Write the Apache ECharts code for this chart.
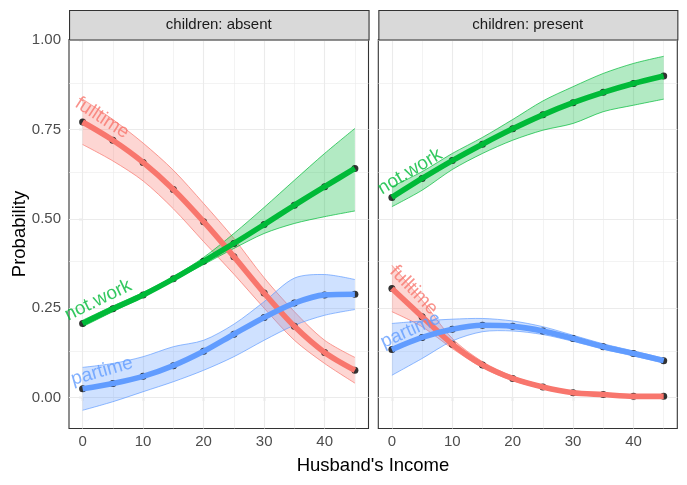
<!DOCTYPE html>
<html>
<head>
<meta charset="utf-8">
<script src="https://cdn.jsdelivr.net/npm/echarts@6/dist/echarts.min.js"></script>
<style>html,body{margin:0;padding:0;background:#fff}#c{width:687px;height:485px}</style>
</head>
<body>
<div id="c"></div>
<script>
// ---- data ----
const income = [0, 5, 10, 15, 20, 25, 30, 35, 40, 45];
const facets = ['children: absent', 'children: present'];
const outcomes = ['fulltime', 'not.work', 'partime'];
const xTicks = [0, 10, 20, 30, 40];
const yTicks = [0, 0.25, 0.5, 0.75, 1];
const xGridVals = [0, 5, 10, 15, 20, 25, 30, 35, 40, 45];
const yGridVals = [0, 0.125, 0.25, 0.375, 0.5, 0.625, 0.75, 0.875, 1];

// children: absent
const fullAbsent     = [0.771, 0.720, 0.658, 0.582, 0.492, 0.394, 0.292, 0.199, 0.126, 0.076];
const fullAbsentLo   = [0.708, 0.662, 0.606, 0.528, 0.436, 0.345, 0.250, 0.160, 0.095, 0.040];
const fullAbsentHi   = [0.835, 0.778, 0.712, 0.636, 0.543, 0.445, 0.335, 0.240, 0.160, 0.112];
const notAbsent      = [0.207, 0.248, 0.287, 0.332, 0.381, 0.431, 0.484, 0.538, 0.590, 0.641];
const notAbsentLo    = [0.198, 0.240, 0.281, 0.327, 0.372, 0.417, 0.459, 0.487, 0.506, 0.522];
const notAbsentHi    = [0.216, 0.256, 0.294, 0.338, 0.392, 0.459, 0.532, 0.608, 0.683, 0.753];
const partAbsent     = [0.024, 0.039, 0.059, 0.089, 0.129, 0.177, 0.224, 0.264, 0.287, 0.289];
const partAbsentLo   = [-0.036, -0.012, 0.016, 0.044, 0.076, 0.114, 0.160, 0.202, 0.230, 0.246];
const partAbsentHi   = [0.084, 0.095, 0.114, 0.142, 0.160, 0.205, 0.268, 0.334, 0.344, 0.330];

// children: present
const fullPresent    = [0.305, 0.226, 0.149, 0.091, 0.053, 0.029, 0.013, 0.008, 0.003, 0.003];
const fullPresentLo  = [0.240, 0.198, 0.137, 0.083, 0.047, 0.025, 0.010, 0.005, 0.001, 0.001];
const fullPresentHi  = [0.370, 0.272, 0.165, 0.100, 0.059, 0.034, 0.017, 0.011, 0.006, 0.005];
const notPresent     = [0.560, 0.613, 0.663, 0.709, 0.752, 0.791, 0.825, 0.854, 0.879, 0.900];
const notPresentLo   = [0.534, 0.580, 0.638, 0.683, 0.720, 0.748, 0.767, 0.800, 0.818, 0.835];
const notPresentHi   = [0.590, 0.632, 0.683, 0.728, 0.778, 0.830, 0.870, 0.907, 0.935, 0.955];
const partPresent    = [0.134, 0.168, 0.191, 0.202, 0.199, 0.186, 0.165, 0.142, 0.123, 0.103];
const partPresentLo  = [0.062, 0.109, 0.158, 0.184, 0.186, 0.176, 0.157, 0.135, 0.116, 0.096];
const partPresentHi  = [0.207, 0.214, 0.219, 0.221, 0.214, 0.198, 0.174, 0.150, 0.130, 0.110];

// direct labels: [x, y] per facet and outcome
const labelPosAbsent  = {fulltime: [3.2, 0.782], 'not.work': [2.6, 0.272], partime: [3.2, 0.073]};
const labelPosPresent = {fulltime: [3.6, 0.300], 'not.work': [3.0, 0.632], partime: [3.1, 0.188]};

// ---- styles ----
const FONT = 'Liberation Sans, Arial, Helvetica, sans-serif';
const SMOOTH = 0.3;
const colors = {fulltime: '#F8766D', 'not.work': '#00BA38', partime: '#619CFF'};
const fills = {fulltime: 'rgba(248,118,109,0.3)', 'not.work': 'rgba(0,186,56,0.3)', partime: 'rgba(97,156,255,0.3)'};
const labelRot = [
  {fulltime: -33, 'not.work': 26, partime: 16},
  {fulltime: -46, 'not.work': 31, partime: 24}
];

const facetData = [
  {
    fulltime: [fullAbsent, fullAbsentLo, fullAbsentHi],
    'not.work': [notAbsent, notAbsentLo, notAbsentHi],
    partime: [partAbsent, partAbsentLo, partAbsentHi],
    labels: labelPosAbsent
  },
  {
    fulltime: [fullPresent, fullPresentLo, fullPresentHi],
    'not.work': [notPresent, notPresentLo, notPresentHi],
    partime: [partPresent, partPresentLo, partPresentHi],
    labels: labelPosPresent
  }
];

const gridBoxes = [
  {left: 69, top: 39.5, width: 299.5, height: 389},
  {left: 378.3, top: 39.5, width: 299, height: 389}
];

// smooth path through pixel points (same idea as ECharts line smoothing)
function ctrlPts(pts, i, s) {
  const p = pts[i];
  if (i === 0 || i === pts.length - 1) return [p, p];
  const a = pts[i - 1], b = pts[i + 1];
  const vx = b[0] - a[0], vy = b[1] - a[1];
  const d0 = Math.hypot(p[0] - a[0], p[1] - a[1]);
  const d1 = Math.hypot(b[0] - p[0], b[1] - p[1]);
  const sum = d0 + d1 || 1;
  const prev = [p[0] - vx * s * d0 / sum, p[1] - vy * s * d0 / sum];
  const next = [p[0] + vx * s * d1 / sum, p[1] + vy * s * d1 / sum];
  return [prev, next];
}
function smoothSeg(pts, s, start) {
  let d = start + pts[0][0] + ' ' + pts[0][1];
  for (let i = 0; i < pts.length - 1; i++) {
    const c1 = ctrlPts(pts, i, s)[1], c2 = ctrlPts(pts, i + 1, s)[0], q = pts[i + 1];
    d += ' C' + c1[0] + ' ' + c1[1] + ' ' + c2[0] + ' ' + c2[1] + ' ' + q[0] + ' ' + q[1];
  }
  return d;
}

const series = [];
facetData.forEach((fd, g) => {
  // grid lines
  series.push({
    type: 'line', xAxisIndex: g, yAxisIndex: g, data: [], silent: true, z: 1,
    markLine: {
      z: 1, silent: true, symbol: 'none', animation: false, label: {show: false},
      data: xGridVals.map(v => ({xAxis: v, lineStyle: {width: v % 10 === 0 ? 1.1 : 0.6, color: '#EBEBEB', type: 'solid'}}))
        .concat(yGridVals.map(v => ({yAxis: v, lineStyle: {width: (v * 4) % 1 === 0 ? 1.1 : 0.6, color: '#EBEBEB', type: 'solid'}})))
    }
  });
  // ribbons
  outcomes.forEach(o => {
    const [mid, lo, hi] = fd[o];
    series.push({
      type: 'custom', xAxisIndex: g, yAxisIndex: g, z: 2, silent: true,
      data: income.map((x, i) => [x, lo[i], hi[i]]),
      encode: {x: 0, y: [1, 2]},
      renderItem: function (params, api) {
        if (params.dataIndex !== 0) return null;
        const n = income.length;
        const up = [], dn = [];
        for (let i = 0; i < n; i++) {
          const xv = api.value(0, i);
          up.push(api.coord([xv, api.value(2, i)]));
          dn.push(api.coord([xv, api.value(1, i)]));
        }
        const dnRev = dn.slice().reverse();
        const fillPath = smoothSeg(up, SMOOTH, 'M') + ' ' + smoothSeg(dnRev, SMOOTH, 'L') + ' Z';
        return {
          type: 'group',
          children: [
            {type: 'path', shape: {pathData: fillPath}, style: {fill: fills[o], stroke: null}},
            {type: 'path', shape: {pathData: smoothSeg(up, SMOOTH, 'M')}, style: {fill: null, stroke: colors[o], lineWidth: 0.7}},
            {type: 'path', shape: {pathData: smoothSeg(dn, SMOOTH, 'M')}, style: {fill: null, stroke: colors[o], lineWidth: 0.7}}
          ]
        };
      }
    });
  });
  // points (under lines)
  outcomes.forEach(o => {
    const mid = fd[o][0];
    series.push({
      type: 'scatter', xAxisIndex: g, yAxisIndex: g, z: 3,
      data: income.map((x, i) => [x, mid[i]]), symbol: 'circle', symbolSize: 7,
      itemStyle: {color: '#000'}, silent: true
    });
  });
  // lines
  outcomes.forEach(o => {
    const mid = fd[o][0];
    series.push({
      type: 'line', xAxisIndex: g, yAxisIndex: g, z: 4,
      data: income.map((x, i) => [x, mid[i]]), symbol: 'none', smooth: SMOOTH,
      lineStyle: {color: colors[o], width: 5.6}, silent: true
    });
  });
  // direct labels
  outcomes.forEach(o => {
    series.push({
      type: 'scatter', xAxisIndex: g, yAxisIndex: g, z: 5,
      data: [fd.labels[o]], symbol: 'circle', symbolSize: 1,
      itemStyle: {color: 'rgba(0,0,0,0)'}, silent: true,
      label: {
        show: true, position: 'inside', formatter: o, rotate: labelRot[g][o],
        color: colors[o], fontSize: 19, fontFamily: FONT, align: 'center', verticalAlign: 'middle'
      }
    });
  });
});

const xAxes = [0, 1].map(g => ({
  gridIndex: g, type: 'value', min: -2.25, max: 47.25,
  splitLine: {show: false}, axisLine: {show: false},
  axisTick: {show: true, length: 4, customValues: xTicks, lineStyle: {color: '#333333', width: 1.1}},
  axisLabel: {customValues: xTicks, color: '#4D4D4D', fontSize: 15, fontFamily: FONT, margin: 6}
}));
const yAxes = [0, 1].map(g => ({
  gridIndex: g, type: 'value', min: -0.087, max: 1.002,
  splitLine: {show: false}, axisLine: {show: false},
  axisTick: {show: g === 0, length: 4, customValues: yTicks, lineStyle: {color: '#333333', width: 1.1}},
  axisLabel: {show: g === 0, customValues: yTicks, color: '#4D4D4D', fontSize: 15, fontFamily: FONT, margin: 8,
    formatter: v => v.toFixed(2)}
}));

const graphics = [];
facets.forEach((f, g) => {
  const b = gridBoxes[g];
  graphics.push({
    type: 'rect', left: b.left, top: 10, z: 10,
    shape: {width: b.width, height: 29.5},
    style: {fill: '#D9D9D9', stroke: '#333333', lineWidth: 1.1}
  });
  graphics.push({
    type: 'text', x: b.left + b.width / 2, y: 10 + 29.5 / 2, z: 11,
    style: {text: f, fill: '#1A1A1A', font: '15px ' + FONT, textAlign: 'center', textVerticalAlign: 'middle'}
  });
});
graphics.push({
  type: 'text', x: 373, y: 466, z: 11,
  style: {text: "Husband's Income", fill: '#000', font: '18.5px ' + FONT, textAlign: 'center', textVerticalAlign: 'middle'}
});
graphics.push({
  type: 'text', x: 20, y: 234, rotation: Math.PI / 2, z: 11,
  style: {text: 'Probability', fill: '#000', font: '18.5px ' + FONT, textAlign: 'center', textVerticalAlign: 'middle'}
});

const chart = echarts.init(document.getElementById('c'), null, {renderer: 'canvas'});
chart.setOption({
  animation: false,
  backgroundColor: '#fff',
  grid: gridBoxes.map(b => Object.assign({show: true, borderColor: '#333333', borderWidth: 1.1, backgroundColor: '#fff', containLabel: false}, b)),
  xAxis: xAxes,
  yAxis: yAxes,
  series: series,
  graphic: graphics
});
</script>
</body>
</html>
